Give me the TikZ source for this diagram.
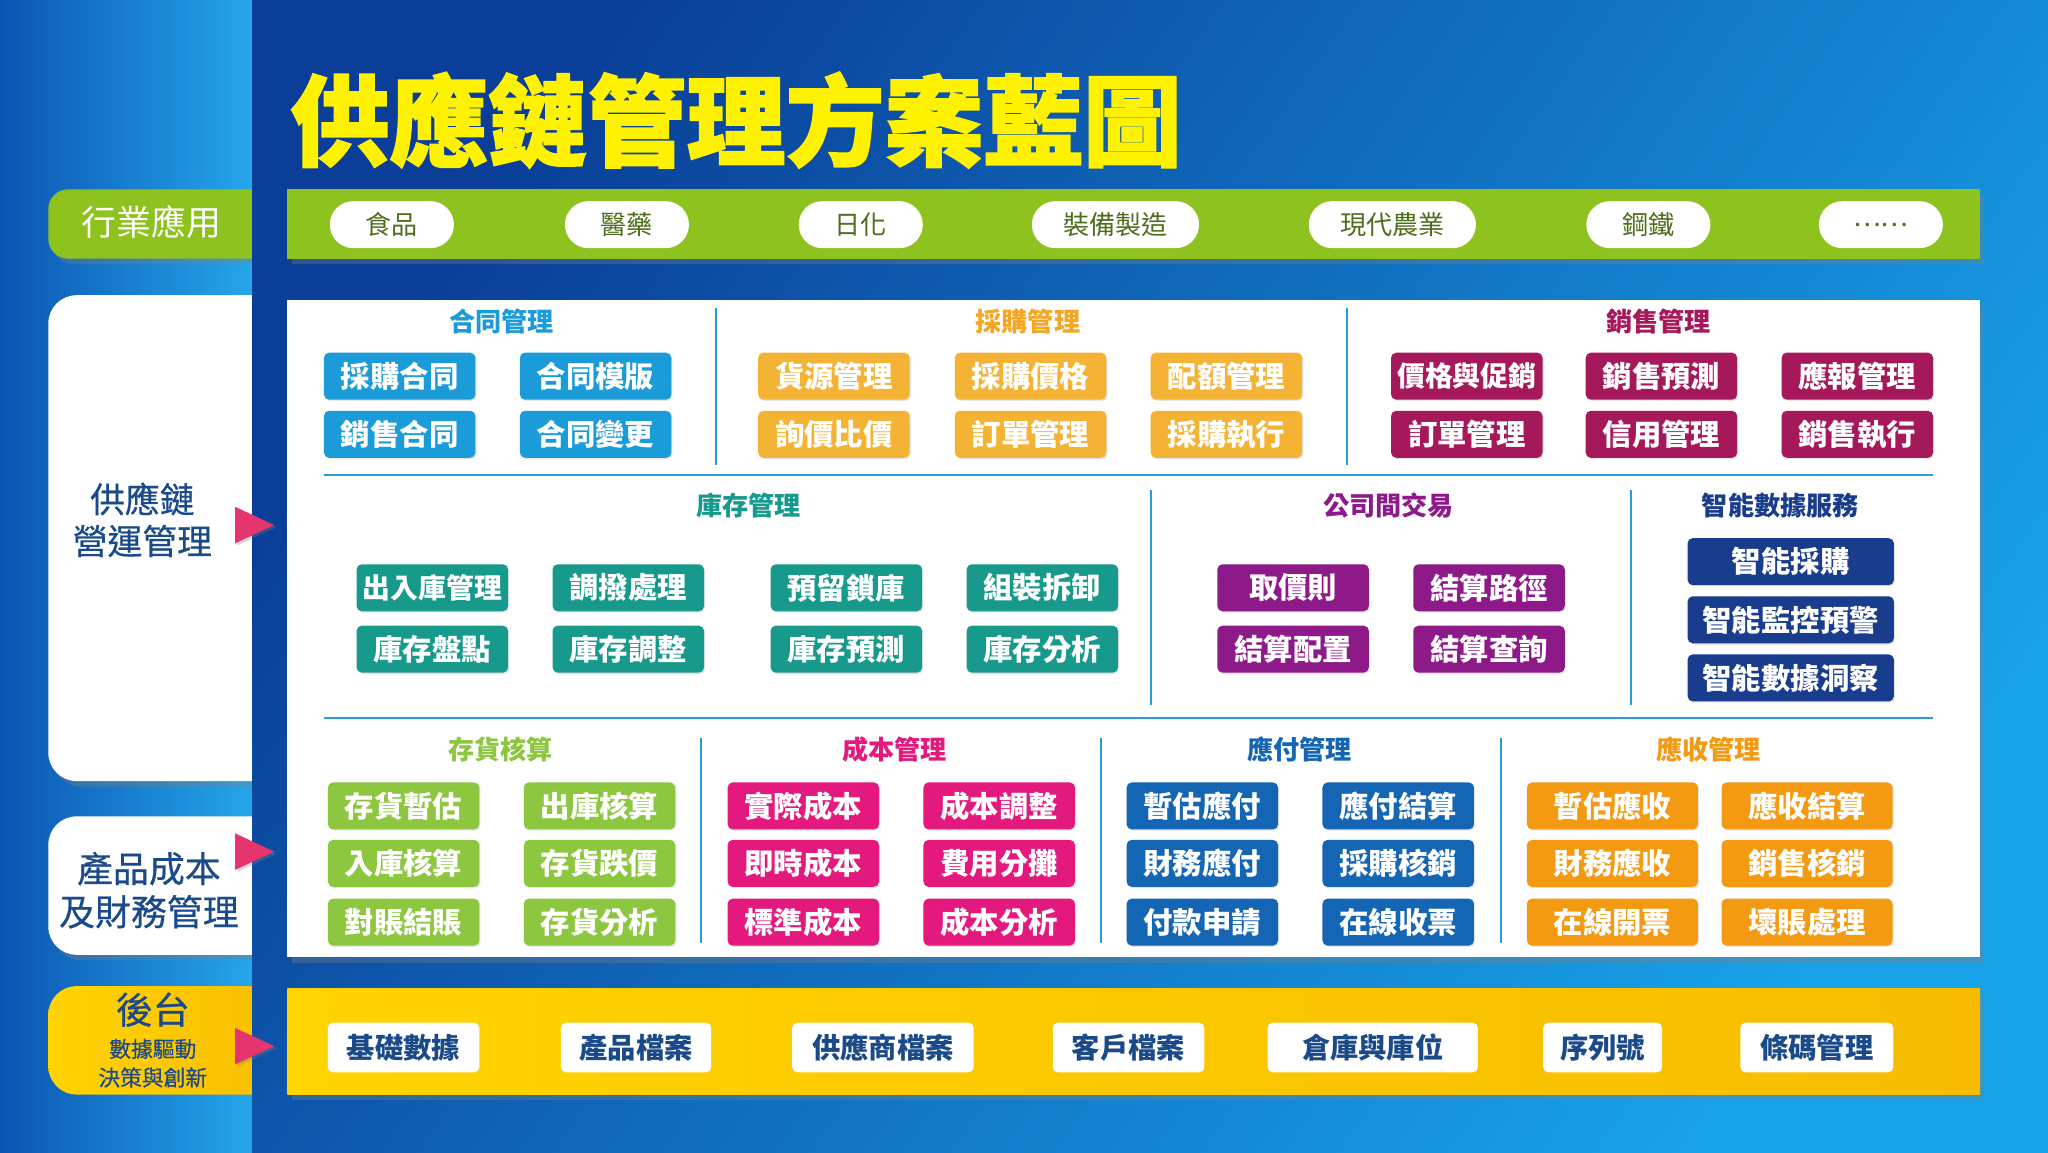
\documentclass[tikz,border=0pt]{standalone}
\usepackage{fontspec}
\setmainfont{Noto Sans CJK TC}
\newfontfamily\titlefont[FakeBold=1.6]{Noto Sans CJK TC}
\newfontfamily\sidefont[FakeBold=0.5]{Noto Sans CJK TC}
\usetikzlibrary{shadows}
\definecolor{bgDark}{HTML}{0A3E98}
\definecolor{bgLight}{HTML}{18A2E8}
\definecolor{colL}{HTML}{0B55B2}
\definecolor{colR}{HTML}{25A6EA}
\definecolor{cHT}{HTML}{1B9BD8}
\definecolor{cPU}{HTML}{F5B335}
\definecolor{cPUt}{HTML}{F5A623}
\definecolor{cSA}{HTML}{A5195B}
\definecolor{cST}{HTML}{17998C}
\definecolor{cIC}{HTML}{8E1A8A}
\definecolor{cAI}{HTML}{1A3C8C}
\definecolor{cIV}{HTML}{8DC63F}
\definecolor{cCO}{HTML}{E4197E}
\definecolor{cAP}{HTML}{1565B5}
\definecolor{cAR}{HTML}{F39A12}
\definecolor{lineC}{HTML}{2A9BD6}
\definecolor{navyText}{HTML}{1B4A8A}
\definecolor{triPink}{HTML}{E4356F}
\definecolor{bandGreen}{HTML}{8DC21F}
\definecolor{pillText}{HTML}{4D6E1C}
\definecolor{yelL}{HTML}{FFD400}
\definecolor{yelR}{HTML}{F7BC00}
\definecolor{titleYellow}{HTML}{FFF200}
\begin{document}
\begin{tikzpicture}[x=0.6pt,y=-0.6pt,
  item/.style={fill=#1, rounded corners=2.4pt, minimum width=69.6pt, minimum height=21.6pt,
    inner sep=0pt, text=white, font=\bfseries\fontsize{13.5}{14}\selectfont,
    drop shadow={shadow xshift=0.5pt, shadow yshift=-0.6pt, opacity=0.2}},
  sect/.style={text=#1, font=\bfseries\fontsize{12}{13}\selectfont, inner sep=0pt},
  pill/.style={fill=white, rounded corners=10.8pt, minimum height=21.6pt, minimum width=#1,
    inner sep=0pt, text=pillText, font=\fontsize{12}{13}\selectfont},
  basebox/.style={fill=white, rounded corners=2.4pt, minimum height=22.8pt, minimum width=#1,
    inner sep=0pt, text=navyText, font=\bfseries\fontsize{13}{14}\selectfont},
  divider/.style={draw=lineC, line width=0.9pt},
  sidelabel/.style={text=navyText, align=center, inner sep=0pt},
  tri/.style={fill=triPink, drop shadow={shadow xshift=1pt, shadow yshift=-1pt, opacity=0.3}},
  panel/.style={drop shadow={shadow xshift=2pt, shadow yshift=-2.5pt, opacity=0.35}}
]
\useasboundingbox (0,0) rectangle (1568,882);
% left column background
\shade[left color=colL, right color=colR] (0,0) rectangle (194,882);
% left label boxes (extend under main background)
\fill[bandGreen, panel, rounded corners=9pt] (37,145) rectangle (230,198);
\fill[white, panel, rounded corners=13pt] (37,226) rectangle (230,598);
\fill[white, panel, rounded corners=13pt] (37,625) rectangle (230,731);
\shade[left color=yelL, right color=yelR, rounded corners=13pt] (37,755) rectangle (230,838);
% main background
\shade[top color=bgDark, bottom color=bgLight, shading angle=55] (193,0) rectangle (1568,882);
% title
\node[anchor=west, inner sep=0pt, text=titleYellow, font=\titlefont\bfseries\fontsize{45.5}{46}\selectfont] (title) at (222,92) {供應鏈管理方案藍圖};
% green band
\fill[bandGreen, panel] (220,145) rectangle (1516,198);
% main white panel
\fill[white, panel] (220,230) rectangle (1516,733);
% yellow band
\shade[left color=yelL, right color=yelR, panel] (220,757) rectangle (1516,838);
% side labels
\node[text=white, inner sep=0pt, font=\fontsize{16}{17}\selectfont] (lInd) at (116,170) {行業應用};
\node[sidelabel, font=\sidefont\fontsize{16}{19.2}\selectfont] (lOps) at (109,398) {供應鏈\\營運管理};
\node[sidelabel, font=\sidefont\fontsize{16.5}{19.8}\selectfont] (lFin) at (114,681.5) {產品成本\\及財務管理};
\node[sidelabel, font=\sidefont\fontsize{17}{18}\selectfont] (lBack) at (117,773) {後台};
\node[sidelabel, font=\sidefont\fontsize{10}{13.2}\selectfont] (lBack2) at (117,814) {數據驅動\\決策與創新};
% triangles
\fill[tri] (180,388) -- (210,402) -- (180,416) -- cycle;
\fill[tri] (180,638) -- (210,652) -- (180,666) -- cycle;
\fill[tri] (180,787) -- (210,801) -- (180,815) -- cycle;
% pills
\node[pill=57pt] (p1) at (300,172) {食品};
\node[pill=57pt] (p2) at (480,172) {醫藥};
\node[pill=57pt] (p3) at (659,172) {日化};
\node[pill=76.8pt] (p4) at (854,172) {裝備製造};
\node[pill=76.8pt] (p5) at (1066,172) {現代農業};
\node[pill=57pt] (p6) at (1262,172) {鋼鐵};
\node[pill=57pt] (p7) at (1440,172) {……};
% dividers
\draw[divider] (548,236) -- (548,356);
\draw[divider] (1031,236) -- (1031,356);
\draw[divider] (248,364) -- (1480,364);
\draw[divider] (881,375) -- (881,540);
\draw[divider] (1249,375) -- (1249,540);
\draw[divider] (248,550) -- (1480,550);
\draw[divider] (537,565) -- (537,722);
\draw[divider] (843,565) -- (843,722);
\draw[divider] (1149,565) -- (1149,722);
% row 1
\node[sect=cHT] (t1) at (384,246) {合同管理};
\node[item=cHT] (a1) at (306,288) {採購合同};
\node[item=cHT] (a2) at (456,288) {合同模版};
\node[item=cHT] (a3) at (306,332.5) {銷售合同};
\node[item=cHT] (a4) at (456,332.5) {合同變更};
\node[sect=cPUt] (t2) at (787,246) {採購管理};
\node[item=cPU] (b1) at (638.5,288) {貨源管理};
\node[item=cPU] (b2) at (789,288) {採購價格};
\node[item=cPU] (b3) at (939,288) {配額管理};
\node[item=cPU] (b4) at (638.5,332.5) {詢價比價};
\node[item=cPU] (b5) at (789,332.5) {訂單管理};
\node[item=cPU] (b6) at (939,332.5) {採購執行};
\node[sect=cSA] (t3) at (1270,246) {銷售管理};
\node[item=cSA, font=\bfseries\fontsize{12.8}{14}\selectfont] (c1) at (1123,288) {價格與促銷};
\node[item=cSA] (c2) at (1272,288) {銷售預測};
\node[item=cSA] (c3) at (1422,288) {應報管理};
\node[item=cSA] (c4) at (1123,332.5) {訂單管理};
\node[item=cSA] (c5) at (1272,332.5) {信用管理};
\node[item=cSA] (c6) at (1422,332.5) {銷售執行};
% row 2
\node[sect=cST] (t4) at (573,387) {庫存管理};
\node[item=cST, font=\bfseries\fontsize{12.8}{14}\selectfont] (d1) at (331,450) {出入庫管理};
\node[item=cST] (d2) at (481,450) {調撥處理};
\node[item=cST] (d3) at (648,450) {預留鎖庫};
\node[item=cST] (d4) at (798,450) {組裝拆卸};
\node[item=cST] (d5) at (331,497) {庫存盤點};
\node[item=cST] (d6) at (481,497) {庫存調整};
\node[item=cST] (d7) at (648,497) {庫存預測};
\node[item=cST] (d8) at (798,497) {庫存分析};
\node[sect=cIC] (t5) at (1063,387) {公司間交易};
\node[item=cIC] (e1) at (990,450) {取價則};
\node[item=cIC] (e2) at (1140,450) {結算路徑};
\node[item=cIC] (e3) at (990,497) {結算配置};
\node[item=cIC] (e4) at (1140,497) {結算查詢};
\node[sect=cAI] (t6) at (1363,387) {智能數據服務};
\node[item=cAI, minimum width=94.8pt] (f1) at (1371,430) {智能採購};
\node[item=cAI, minimum width=94.8pt] (f2) at (1371,474.5) {智能監控預警};
\node[item=cAI, minimum width=94.8pt] (f3) at (1371,519) {智能數據洞察};
% row 3
\node[sect=cIV] (t7) at (383,574) {存貨核算};
\node[item=cIV] (g1) at (309,617) {存貨暫估};
\node[item=cIV] (g2) at (459,617) {出庫核算};
\node[item=cIV] (g3) at (309,661) {入庫核算};
\node[item=cIV] (g4) at (459,661) {存貨跌價};
\node[item=cIV] (g5) at (309,706) {對賬結賬};
\node[item=cIV] (g6) at (459,706) {存貨分析};
\node[sect=cCO] (t8) at (685,574) {成本管理};
\node[item=cCO] (h1) at (615,617) {實際成本};
\node[item=cCO] (h2) at (765,617) {成本調整};
\node[item=cCO] (h3) at (615,661) {即時成本};
\node[item=cCO] (h4) at (765,661) {費用分攤};
\node[item=cCO] (h5) at (615,706) {標準成本};
\node[item=cCO] (h6) at (765,706) {成本分析};
\node[sect=cAP] (t9) at (995,574) {應付管理};
\node[item=cAP] (i1) at (920.5,617) {暫估應付};
\node[item=cAP] (i2) at (1070.5,617) {應付結算};
\node[item=cAP] (i3) at (920.5,661) {財務應付};
\node[item=cAP] (i4) at (1070.5,661) {採購核銷};
\node[item=cAP] (i5) at (920.5,706) {付款申請};
\node[item=cAP] (i6) at (1070.5,706) {在線收票};
\node[sect=cAR] (t10) at (1308,574) {應收管理};
\node[item=cAR, minimum width=78.6pt] (j1) at (1234.5,617) {暫估應收};
\node[item=cAR, minimum width=78.6pt] (j2) at (1383.5,617) {應收結算};
\node[item=cAR, minimum width=78.6pt] (j3) at (1234.5,661) {財務應收};
\node[item=cAR, minimum width=78.6pt] (j4) at (1383.5,661) {銷售核銷};
\node[item=cAR, minimum width=78.6pt] (j5) at (1234.5,706) {在線開票};
\node[item=cAR, minimum width=78.6pt] (j6) at (1383.5,706) {壞賬處理};
% bottom band
\node[basebox=69.6pt] (k1) at (309,802) {基礎數據};
\node[basebox=69pt] (k2) at (487,802) {產品檔案};
\node[basebox=83.4pt] (k3) at (676,802) {供應商檔案};
\node[basebox=69.6pt] (k4) at (864,802) {客戶檔案};
\node[basebox=96.6pt] (k5) at (1051,802) {倉庫與庫位};
\node[basebox=54.6pt] (k6) at (1227,802) {序列號};
\node[basebox=70.2pt] (k7) at (1391,802) {條碼管理};
\end{tikzpicture}
\end{document}
